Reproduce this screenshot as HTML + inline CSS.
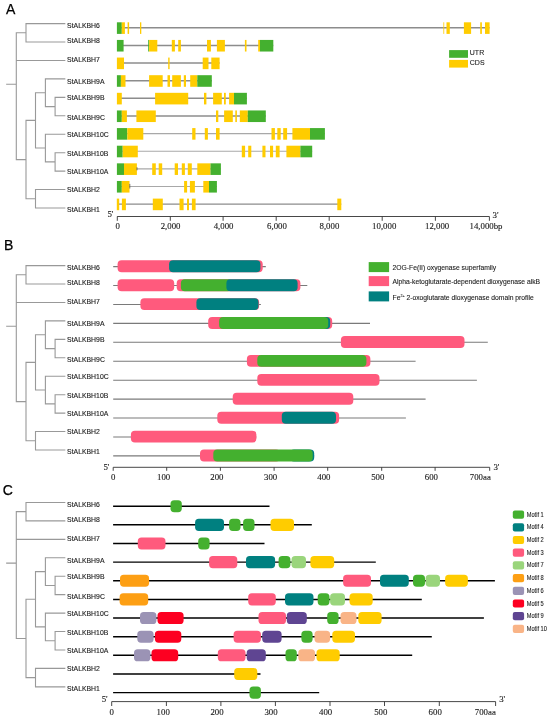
<!DOCTYPE html>
<html><head><meta charset="utf-8"><title>StALKBH gene structure</title><style>
html,body{margin:0;padding:0;background:#fff;width:550px;height:720px;overflow:hidden}
svg{display:block}
.pl{font-family:"Liberation Sans",Arial,sans-serif;font-size:14px;fill:#000;stroke:#000;stroke-width:0.25px}
.lb{font-family:"Liberation Sans",Arial,sans-serif;font-size:6.87px;fill:#222;stroke:#222;stroke-width:0.12px}
.lga{font-family:"Liberation Sans",Arial,sans-serif;font-size:7px;fill:#222;stroke:#222;stroke-width:0.1px}
.lgb{font-family:"Liberation Sans",Arial,sans-serif;font-size:6.75px;fill:#222;stroke:#222;stroke-width:0.1px}
.lgc{font-family:"Liberation Sans",Arial,sans-serif;font-size:6.7px;fill:#222;stroke:#222;stroke-width:0.1px}
.ax{font-family:"Liberation Serif","Times New Roman",serif;font-size:8.8px;fill:#1a1a1a;stroke:#1a1a1a;stroke-width:0.12px}
</style></head><body>
<svg width="550" height="720" viewBox="0 0 550 720">
<rect width="550" height="720" fill="#fff"/>
<text x="6" y="13.5" class="pl">A</text>
<text x="3.9" y="249.7" class="pl">B</text>
<text x="2.7" y="494.5" class="pl">C</text>
<path d="M26 23.6H64.8 M26 42.04H64.8 M26 23.6V42.04 M16.3 32.82H26 M16.3 60.48H64.8 M45.4 78.92H64.8 M55.1 97.36H64.8 M55.1 115.8H64.8 M55.1 97.36V115.8 M45.4 106.58H55.1 M45.4 78.92V106.58 M35.5 92.75H45.4 M45.4 134.24H64.8 M55.1 152.68H64.8 M55.1 171.12H64.8 M55.1 152.68V171.12 M45.4 161.9H55.1 M45.4 134.24V161.9 M35.5 148.07H45.4 M35.5 92.75V148.07 M26 120.41H35.5 M35.5 189.56H64.8 M35.5 208H64.8 M35.5 189.56V208 M26 198.78H35.5 M26 120.41V198.78 M16.3 159.59H26 M16.3 32.82V159.59 M6.7 84.3H16.3" stroke="#999999" stroke-width="1.1" fill="none" stroke-linecap="square"/>
<text x="67.1" y="28" class="lb">StALKBH6</text>
<text x="67.1" y="42.94" class="lb">StALKBH8</text>
<text x="67.1" y="61.98" class="lb">StALKBH7</text>
<text x="67.1" y="84.02" class="lb">StALKBH9A</text>
<text x="67.1" y="100.46" class="lb">StALKBH9B</text>
<text x="67.1" y="120.1" class="lb">StALKBH9C</text>
<text x="67.1" y="137.14" class="lb">StALKBH10C</text>
<text x="67.1" y="155.78" class="lb">StALKBH10B</text>
<text x="67.1" y="174.12" class="lb">StALKBH10A</text>
<text x="67.1" y="192.46" class="lb">StALKBH2</text>
<text x="67.1" y="212.35" class="lb">StALKBH1</text>
<path d="M117 27.8H489.6" stroke="#8c8c8c" stroke-width="1.4"/>
<rect x="116.9" y="22.3" width="4.9" height="11.6" fill="#44b02f"/>
<rect x="121.8" y="22.3" width="3.1" height="11.6" fill="#ffcc00"/>
<rect x="127.6" y="22.3" width="1.5" height="11.6" fill="#ffcc00"/>
<rect x="140" y="22.3" width="1.3" height="11.6" fill="#ffcc00"/>
<rect x="443.4" y="22.3" width="0.8" height="11.6" fill="#ffcc00"/>
<rect x="446.5" y="22.3" width="3.3" height="11.6" fill="#ffcc00"/>
<rect x="463.9" y="22.3" width="7.2" height="11.6" fill="#ffcc00"/>
<rect x="480.2" y="22.3" width="1.7" height="11.6" fill="#ffcc00"/>
<rect x="485" y="22.3" width="4.6" height="11.6" fill="#ffcc00"/>
<path d="M117 45.43H273.3" stroke="#8c8c8c" stroke-width="1.4"/>
<rect x="116.9" y="39.93" width="6.7" height="11.6" fill="#44b02f"/>
<rect x="148.2" y="39.93" width="0.9" height="11.6" fill="#44b02f"/>
<rect x="149.1" y="39.93" width="8.2" height="11.6" fill="#ffcc00"/>
<rect x="171.8" y="39.93" width="3.1" height="11.6" fill="#ffcc00"/>
<rect x="178.2" y="39.93" width="2.7" height="11.6" fill="#ffcc00"/>
<rect x="207" y="39.93" width="3.9" height="11.6" fill="#ffcc00"/>
<rect x="216.9" y="39.93" width="8" height="11.6" fill="#ffcc00"/>
<rect x="244.9" y="39.93" width="1.6" height="11.6" fill="#ffcc00"/>
<rect x="258.2" y="39.93" width="1.8" height="11.6" fill="#ffcc00"/>
<rect x="260" y="39.93" width="13.3" height="11.6" fill="#44b02f"/>
<path d="M117 63.06H219.6" stroke="#8c8c8c" stroke-width="1.4"/>
<rect x="116.9" y="57.56" width="7.1" height="11.6" fill="#ffcc00"/>
<rect x="168.2" y="57.56" width="1.4" height="11.6" fill="#ffcc00"/>
<rect x="202.7" y="57.56" width="5.8" height="11.6" fill="#ffcc00"/>
<rect x="211.3" y="57.56" width="8.3" height="11.6" fill="#ffcc00"/>
<path d="M117 80.69H211.8" stroke="#8c8c8c" stroke-width="1.4"/>
<rect x="116.9" y="75.19" width="4" height="11.6" fill="#44b02f"/>
<rect x="120.9" y="75.19" width="4.6" height="11.6" fill="#ffcc00"/>
<rect x="149.1" y="75.19" width="13.6" height="11.6" fill="#ffcc00"/>
<rect x="167.5" y="75.19" width="2.5" height="11.6" fill="#ffcc00"/>
<rect x="172.2" y="75.19" width="8.7" height="11.6" fill="#ffcc00"/>
<rect x="183.8" y="75.19" width="2.2" height="11.6" fill="#ffcc00"/>
<rect x="190.2" y="75.19" width="7.1" height="11.6" fill="#ffcc00"/>
<rect x="197.3" y="75.19" width="14.5" height="11.6" fill="#44b02f"/>
<path d="M117 98.32H246.9" stroke="#8c8c8c" stroke-width="1.4"/>
<rect x="116.9" y="92.82" width="4.9" height="11.6" fill="#ffcc00"/>
<rect x="155.1" y="92.82" width="33.1" height="11.6" fill="#ffcc00"/>
<rect x="204" y="92.82" width="2.4" height="11.6" fill="#ffcc00"/>
<rect x="213.1" y="92.82" width="8.7" height="11.6" fill="#ffcc00"/>
<rect x="224" y="92.82" width="1.8" height="11.6" fill="#ffcc00"/>
<rect x="229.1" y="92.82" width="4.9" height="11.6" fill="#ffcc00"/>
<rect x="234" y="92.82" width="12.9" height="11.6" fill="#44b02f"/>
<path d="M117 115.95H265.8" stroke="#8c8c8c" stroke-width="1.4"/>
<rect x="116.9" y="110.45" width="4.9" height="11.6" fill="#44b02f"/>
<rect x="121.8" y="110.45" width="5.1" height="11.6" fill="#ffcc00"/>
<rect x="136.4" y="110.45" width="19.4" height="11.6" fill="#ffcc00"/>
<rect x="216" y="110.45" width="2.3" height="11.6" fill="#ffcc00"/>
<rect x="224.1" y="110.45" width="8.7" height="11.6" fill="#ffcc00"/>
<rect x="235.3" y="110.45" width="1.6" height="11.6" fill="#ffcc00"/>
<rect x="239.8" y="110.45" width="8" height="11.6" fill="#ffcc00"/>
<rect x="247.8" y="110.45" width="18" height="11.6" fill="#44b02f"/>
<path d="M117 133.58H324.9" stroke="#a8a8a8" stroke-width="1.1"/>
<rect x="116.9" y="128.08" width="10.4" height="11.6" fill="#44b02f"/>
<rect x="127.3" y="128.08" width="16" height="11.6" fill="#ffcc00"/>
<rect x="192.2" y="128.08" width="3.3" height="11.6" fill="#ffcc00"/>
<rect x="204.8" y="128.08" width="3.1" height="11.6" fill="#ffcc00"/>
<rect x="216" y="128.08" width="3.6" height="11.6" fill="#ffcc00"/>
<rect x="271.5" y="128.08" width="3.4" height="11.6" fill="#ffcc00"/>
<rect x="277.3" y="128.08" width="3.4" height="11.6" fill="#ffcc00"/>
<rect x="283.2" y="128.08" width="3.9" height="11.6" fill="#ffcc00"/>
<rect x="292.4" y="128.08" width="17.6" height="11.6" fill="#ffcc00"/>
<rect x="310" y="128.08" width="14.9" height="11.6" fill="#44b02f"/>
<path d="M117 151.21H312.2" stroke="#a8a8a8" stroke-width="1.1"/>
<rect x="116.9" y="145.71" width="5.8" height="11.6" fill="#44b02f"/>
<rect x="122.7" y="145.71" width="15.1" height="11.6" fill="#ffcc00"/>
<rect x="241.8" y="145.71" width="3.3" height="11.6" fill="#ffcc00"/>
<rect x="248.2" y="145.71" width="3.1" height="11.6" fill="#ffcc00"/>
<rect x="262.4" y="145.71" width="3.1" height="11.6" fill="#ffcc00"/>
<rect x="270" y="145.71" width="3.1" height="11.6" fill="#ffcc00"/>
<rect x="275.8" y="145.71" width="3.8" height="11.6" fill="#ffcc00"/>
<rect x="286.4" y="145.71" width="14" height="11.6" fill="#ffcc00"/>
<rect x="300.4" y="145.71" width="11.8" height="11.6" fill="#44b02f"/>
<path d="M117 168.84H220.9" stroke="#a8a8a8" stroke-width="1.1"/>
<rect x="116.9" y="163.34" width="7.1" height="11.6" fill="#44b02f"/>
<rect x="124" y="163.34" width="12.9" height="11.6" fill="#ffcc00"/>
<rect x="152.2" y="163.34" width="3.6" height="11.6" fill="#ffcc00"/>
<rect x="158.7" y="163.34" width="3.5" height="11.6" fill="#ffcc00"/>
<rect x="174.7" y="163.34" width="3.3" height="11.6" fill="#ffcc00"/>
<rect x="181.8" y="163.34" width="3.1" height="11.6" fill="#ffcc00"/>
<rect x="187.8" y="163.34" width="4" height="11.6" fill="#ffcc00"/>
<rect x="197.3" y="163.34" width="13.2" height="11.6" fill="#ffcc00"/>
<rect x="210.5" y="163.34" width="10.4" height="11.6" fill="#44b02f"/>
<path d="M117 186.47H216.9" stroke="#a8a8a8" stroke-width="1.1"/>
<rect x="116.9" y="180.97" width="4.9" height="11.6" fill="#44b02f"/>
<rect x="121.8" y="180.97" width="7.7" height="11.6" fill="#ffcc00"/>
<rect x="184.1" y="180.97" width="3" height="11.6" fill="#ffcc00"/>
<rect x="189.9" y="180.97" width="5" height="11.6" fill="#ffcc00"/>
<rect x="203.3" y="180.97" width="5.7" height="11.6" fill="#ffcc00"/>
<rect x="209" y="180.97" width="7.9" height="11.6" fill="#44b02f"/>
<path d="M117 204.1H341.3" stroke="#8c8c8c" stroke-width="1.4"/>
<rect x="116.8" y="198.6" width="2.4" height="11.6" fill="#ffcc00"/>
<rect x="121.9" y="198.6" width="4" height="11.6" fill="#ffcc00"/>
<rect x="152.8" y="198.6" width="10" height="11.6" fill="#ffcc00"/>
<rect x="179.5" y="198.6" width="4.1" height="11.6" fill="#ffcc00"/>
<rect x="187" y="198.6" width="2" height="11.6" fill="#ffcc00"/>
<rect x="191.9" y="198.6" width="3.7" height="11.6" fill="#ffcc00"/>
<rect x="337.3" y="198.6" width="4" height="11.6" fill="#ffcc00"/>
<path d="M137 167.3V170.3M129.8 183.9V188.5" stroke="#555" stroke-width="0.8"/>
<rect x="449.1" y="50.1" width="18.9" height="7.7" fill="#44b02f"/>
<rect x="449.1" y="59.9" width="18.9" height="7.7" fill="#ffcc00"/>
<text x="469.8" y="54.6" class="lga">UTR</text>
<text x="469.8" y="64.6" class="lga">CDS</text>
<path d="M117.2 216.5H489.4M117.3 216.5V220.8M170.3 216.5V220.8M223.1 216.5V220.8M276.2 216.5V220.8M329.2 216.5V220.8M382.2 216.5V220.8M435.4 216.5V220.8M489.4 216.5V220.8" stroke="#333" stroke-width="0.9" fill="none"/>
<text x="117.7" y="228.9" class="ax" text-anchor="middle">0</text>
<text x="170.6" y="228.9" class="ax" text-anchor="middle">2,000</text>
<text x="223.6" y="228.9" class="ax" text-anchor="middle">4,000</text>
<text x="277" y="228.9" class="ax" text-anchor="middle">6,000</text>
<text x="329.4" y="228.9" class="ax" text-anchor="middle">8,000</text>
<text x="384.2" y="228.9" class="ax" text-anchor="middle">10,000</text>
<text x="437.1" y="228.9" class="ax" text-anchor="middle">12,000</text>
<text x="469.5" y="228.9" class="ax">14,000bp</text>
<text x="107.4" y="217.3" class="ax">5'</text>
<text x="492.6" y="217.8" class="ax">3'</text>
<path d="M26 265.6H64.8 M26 284.04H64.8 M26 265.6V284.04 M16.3 274.82H26 M16.3 302.48H64.8 M45.4 320.92H64.8 M55.1 339.36H64.8 M55.1 357.8H64.8 M55.1 339.36V357.8 M45.4 348.58H55.1 M45.4 320.92V348.58 M35.5 334.75H45.4 M45.4 376.24H64.8 M55.1 394.68H64.8 M55.1 413.12H64.8 M55.1 394.68V413.12 M45.4 403.9H55.1 M45.4 376.24V403.9 M35.5 390.07H45.4 M35.5 334.75V390.07 M26 362.41H35.5 M35.5 431.56H64.8 M35.5 450H64.8 M35.5 431.56V450 M26 440.78H35.5 M26 362.41V440.78 M16.3 401.6H26 M16.3 274.82V401.6 M6.7 326.3H16.3" stroke="#999999" stroke-width="1.1" fill="none" stroke-linecap="square"/>
<text x="67.1" y="270" class="lb">StALKBH6</text>
<text x="67.1" y="284.94" class="lb">StALKBH8</text>
<text x="67.1" y="303.98" class="lb">StALKBH7</text>
<text x="67.1" y="326.02" class="lb">StALKBH9A</text>
<text x="67.1" y="342.46" class="lb">StALKBH9B</text>
<text x="67.1" y="362.1" class="lb">StALKBH9C</text>
<text x="67.1" y="379.14" class="lb">StALKBH10C</text>
<text x="67.1" y="397.78" class="lb">StALKBH10B</text>
<text x="67.1" y="416.12" class="lb">StALKBH10A</text>
<text x="67.1" y="434.46" class="lb">StALKBH2</text>
<text x="67.1" y="454.35" class="lb">StALKBH1</text>
<path d="M113.2 266.6H265.8" stroke="#7a7a7a" stroke-width="1.1"/>
<rect x="117.6" y="260.3" width="145.1" height="11.9" rx="4" fill="#ff5a7d"/>
<rect x="169.1" y="260.3" width="91.3" height="11.9" rx="4" fill="#008080"/>
<path d="M113.2 285.53H307.3" stroke="#7a7a7a" stroke-width="1.1"/>
<rect x="117.6" y="279.23" width="56.6" height="11.9" rx="4" fill="#ff5a7d"/>
<rect x="176.7" y="279.23" width="123.7" height="11.9" rx="4" fill="#ff5a7d"/>
<rect x="180.9" y="279.23" width="51.1" height="11.9" rx="4" fill="#44b02f"/>
<rect x="226.4" y="279.23" width="71.2" height="11.9" rx="4" fill="#008080"/>
<path d="M113.2 304.46H260.9" stroke="#7a7a7a" stroke-width="1.1"/>
<rect x="140.4" y="298.16" width="118.7" height="11.9" rx="4" fill="#ff5a7d"/>
<rect x="196.4" y="298.16" width="62.1" height="11.9" rx="4" fill="#008080"/>
<path d="M113.2 323.39H370" stroke="#7a7a7a" stroke-width="1.1"/>
<rect x="208.2" y="317.09" width="124" height="11.9" rx="4" fill="#ff5a7d"/>
<rect x="300" y="317.09" width="30.2" height="11.9" rx="4" fill="#008080"/>
<rect x="219.1" y="317.09" width="109.1" height="11.9" rx="4" fill="#44b02f"/>
<path d="M113.2 342.32H487.8" stroke="#7a7a7a" stroke-width="1.1"/>
<rect x="340.9" y="336.02" width="123.6" height="11.9" rx="4" fill="#ff5a7d"/>
<path d="M113.2 361.25H415.6" stroke="#7a7a7a" stroke-width="1.1"/>
<rect x="246.9" y="354.95" width="123.5" height="11.9" rx="4" fill="#ff5a7d"/>
<rect x="257.3" y="354.95" width="109.1" height="11.9" rx="4" fill="#44b02f"/>
<path d="M113.2 380.18H476.9" stroke="#7a7a7a" stroke-width="1.1"/>
<rect x="257.3" y="373.88" width="122.2" height="11.9" rx="4" fill="#ff5a7d"/>
<path d="M113.2 399.11H425.6" stroke="#7a7a7a" stroke-width="1.1"/>
<rect x="232.7" y="392.81" width="120.6" height="11.9" rx="4" fill="#ff5a7d"/>
<path d="M113.2 418.04H405.9" stroke="#7a7a7a" stroke-width="1.1"/>
<rect x="217.3" y="411.74" width="121.8" height="11.9" rx="4" fill="#ff5a7d"/>
<rect x="281.8" y="411.74" width="54.2" height="11.9" rx="4" fill="#008080"/>
<path d="M113.2 436.97H256.4" stroke="#7a7a7a" stroke-width="1.1"/>
<rect x="130.9" y="430.67" width="125.5" height="11.9" rx="4" fill="#ff5a7d"/>
<path d="M113.2 455.9H314.2" stroke="#7a7a7a" stroke-width="1.1"/>
<rect x="200" y="449.6" width="80" height="11.9" rx="4" fill="#ff5a7d"/>
<rect x="290" y="449.6" width="24.2" height="11.9" rx="4" fill="#008080"/>
<rect x="213.3" y="449.6" width="99.4" height="11.9" rx="4" fill="#44b02f"/>
<rect x="368.7" y="262.1" width="20.4" height="10" fill="#44b02f"/>
<text x="392.6" y="269.9" class="lgb">2OG-Fe(II) oxygenase superfamily</text>
<rect x="368.7" y="276.1" width="20.4" height="10" fill="#ff5a7d"/>
<text x="392.6" y="284.4" class="lgb">Alpha-ketoglutarate-dependent dioxygenase alkB</text>
<rect x="368.7" y="291.4" width="20.4" height="10" fill="#008080"/>
<text x="392.6" y="299.5" class="lgb">Fe<tspan font-size="3.6" dy="-2.6">2+</tspan><tspan dy="2.6"> 2-oxoglutarate dioxygenase domain profile</tspan></text>
<path d="M113.2 467.3H489.7M113.2 467.3V470.8M166.7 467.3V470.8M220.4 467.3V470.8M274.1 467.3V470.8M327.7 467.3V470.8M381.7 467.3V470.8M435.1 467.3V470.8M489.7 467.3V470.8" stroke="#333" stroke-width="0.9" fill="none"/>
<text x="113.3" y="479.8" class="ax" text-anchor="middle">0</text>
<text x="163.6" y="479.8" class="ax" text-anchor="middle">100</text>
<text x="216.9" y="479.8" class="ax" text-anchor="middle">200</text>
<text x="270.6" y="479.8" class="ax" text-anchor="middle">300</text>
<text x="323.9" y="479.8" class="ax" text-anchor="middle">400</text>
<text x="377.8" y="479.8" class="ax" text-anchor="middle">500</text>
<text x="431.4" y="479.8" class="ax" text-anchor="middle">600</text>
<text x="490.8" y="480" class="ax" text-anchor="end">700aa</text>
<text x="103.4" y="469.9" class="ax">5'</text>
<text x="493.4" y="469.8" class="ax">3'</text>
<path d="M26 502.45H64.8 M26 520.89H64.8 M26 502.45V520.89 M16.3 511.67H26 M16.3 539.33H64.8 M45.4 557.77H64.8 M55.1 576.21H64.8 M55.1 594.65H64.8 M55.1 576.21V594.65 M45.4 585.43H55.1 M45.4 557.77V585.43 M35.5 571.6H45.4 M45.4 613.09H64.8 M55.1 631.53H64.8 M55.1 649.97H64.8 M55.1 631.53V649.97 M45.4 640.75H55.1 M45.4 613.09V640.75 M35.5 626.92H45.4 M35.5 571.6V626.92 M26 599.26H35.5 M35.5 668.41H64.8 M35.5 686.85H64.8 M35.5 668.41V686.85 M26 677.63H35.5 M26 599.26V677.63 M16.3 638.44H26 M16.3 511.67V638.44 M6.7 563.15H16.3" stroke="#999999" stroke-width="1.1" fill="none" stroke-linecap="square"/>
<text x="67.1" y="506.85" class="lb">StALKBH6</text>
<text x="67.1" y="521.79" class="lb">StALKBH8</text>
<text x="67.1" y="540.83" class="lb">StALKBH7</text>
<text x="67.1" y="562.87" class="lb">StALKBH9A</text>
<text x="67.1" y="579.31" class="lb">StALKBH9B</text>
<text x="67.1" y="598.95" class="lb">StALKBH9C</text>
<text x="67.1" y="615.99" class="lb">StALKBH10C</text>
<text x="67.1" y="634.63" class="lb">StALKBH10B</text>
<text x="67.1" y="652.97" class="lb">StALKBH10A</text>
<text x="67.1" y="671.31" class="lb">StALKBH2</text>
<text x="67.1" y="691.2" class="lb">StALKBH1</text>
<path d="M113.1 506.2H269.5" stroke="#000" stroke-width="1.45"/>
<rect x="170.5" y="500.15" width="11.3" height="12.1" rx="3.7" fill="#44b02f"/>
<path d="M113.1 524.84H311.8" stroke="#000" stroke-width="1.45"/>
<rect x="195.1" y="518.79" width="28.9" height="12.1" rx="3.7" fill="#008080"/>
<rect x="229.1" y="518.79" width="11.4" height="12.1" rx="3.7" fill="#44b02f"/>
<rect x="243.1" y="518.79" width="11.4" height="12.1" rx="3.7" fill="#44b02f"/>
<rect x="270.5" y="518.79" width="23.5" height="12.1" rx="3.7" fill="#ffcc00"/>
<path d="M113.1 543.48H264.5" stroke="#000" stroke-width="1.45"/>
<rect x="137.8" y="537.43" width="27.7" height="12.1" rx="3.7" fill="#ff5a7d"/>
<rect x="198.2" y="537.43" width="11.4" height="12.1" rx="3.7" fill="#44b02f"/>
<path d="M113.1 562.12H375.8" stroke="#000" stroke-width="1.45"/>
<rect x="209.1" y="556.07" width="28.2" height="12.1" rx="3.7" fill="#ff5a7d"/>
<rect x="246" y="556.07" width="29.1" height="12.1" rx="3.7" fill="#008080"/>
<rect x="278.6" y="556.07" width="11.8" height="12.1" rx="3.7" fill="#44b02f"/>
<rect x="291.5" y="556.07" width="14.5" height="12.1" rx="3.7" fill="#9ad57c"/>
<rect x="310.4" y="556.07" width="23.8" height="12.1" rx="3.7" fill="#ffcc00"/>
<path d="M113.1 580.76H494.9" stroke="#000" stroke-width="1.45"/>
<rect x="120" y="574.71" width="29.1" height="12.1" rx="3.7" fill="#fd9f14"/>
<rect x="343.1" y="574.71" width="27.9" height="12.1" rx="3.7" fill="#ff5a7d"/>
<rect x="380" y="574.71" width="28.8" height="12.1" rx="3.7" fill="#008080"/>
<rect x="413" y="574.71" width="12" height="12.1" rx="3.7" fill="#44b02f"/>
<rect x="425.6" y="574.71" width="14.4" height="12.1" rx="3.7" fill="#9ad57c"/>
<rect x="445.1" y="574.71" width="22.8" height="12.1" rx="3.7" fill="#ffcc00"/>
<path d="M113.1 599.4H421.8" stroke="#000" stroke-width="1.45"/>
<rect x="119.6" y="593.35" width="28.6" height="12.1" rx="3.7" fill="#fd9f14"/>
<rect x="248.2" y="593.35" width="27.6" height="12.1" rx="3.7" fill="#ff5a7d"/>
<rect x="285" y="593.35" width="28.5" height="12.1" rx="3.7" fill="#008080"/>
<rect x="317.7" y="593.35" width="11.8" height="12.1" rx="3.7" fill="#44b02f"/>
<rect x="330.1" y="593.35" width="14.9" height="12.1" rx="3.7" fill="#9ad57c"/>
<rect x="349.5" y="593.35" width="23.2" height="12.1" rx="3.7" fill="#ffcc00"/>
<path d="M113.1 618.04H483.9" stroke="#000" stroke-width="1.45"/>
<rect x="140" y="611.99" width="16.4" height="12.1" rx="3.7" fill="#9b93b5"/>
<rect x="157.5" y="611.99" width="26.1" height="12.1" rx="3.7" fill="#fd0021"/>
<rect x="258.5" y="611.99" width="27.5" height="12.1" rx="3.7" fill="#ff5a7d"/>
<rect x="286.8" y="611.99" width="20" height="12.1" rx="3.7" fill="#5f4592"/>
<rect x="327.2" y="611.99" width="11.4" height="12.1" rx="3.7" fill="#44b02f"/>
<rect x="340.5" y="611.99" width="16" height="12.1" rx="3.7" fill="#f9b487"/>
<rect x="358.3" y="611.99" width="23.3" height="12.1" rx="3.7" fill="#ffcc00"/>
<path d="M113.1 636.68H431.8" stroke="#000" stroke-width="1.45"/>
<rect x="137.3" y="630.63" width="16.3" height="12.1" rx="3.7" fill="#9b93b5"/>
<rect x="154.9" y="630.63" width="26.4" height="12.1" rx="3.7" fill="#fd0021"/>
<rect x="233.6" y="630.63" width="27.3" height="12.1" rx="3.7" fill="#ff5a7d"/>
<rect x="262.2" y="630.63" width="19.4" height="12.1" rx="3.7" fill="#5f4592"/>
<rect x="301.4" y="630.63" width="11.2" height="12.1" rx="3.7" fill="#44b02f"/>
<rect x="314.5" y="630.63" width="15.6" height="12.1" rx="3.7" fill="#f9b487"/>
<rect x="332.3" y="630.63" width="22.7" height="12.1" rx="3.7" fill="#ffcc00"/>
<path d="M113.1 655.32H412.2" stroke="#000" stroke-width="1.45"/>
<rect x="134" y="649.27" width="16.4" height="12.1" rx="3.7" fill="#9b93b5"/>
<rect x="151.5" y="649.27" width="26.7" height="12.1" rx="3.7" fill="#fd0021"/>
<rect x="217.8" y="649.27" width="27.7" height="12.1" rx="3.7" fill="#ff5a7d"/>
<rect x="246.7" y="649.27" width="19.1" height="12.1" rx="3.7" fill="#5f4592"/>
<rect x="285.5" y="649.27" width="11.3" height="12.1" rx="3.7" fill="#44b02f"/>
<rect x="298.3" y="649.27" width="16.7" height="12.1" rx="3.7" fill="#f9b487"/>
<rect x="316.5" y="649.27" width="23.2" height="12.1" rx="3.7" fill="#ffcc00"/>
<path d="M113.1 673.96H260.5" stroke="#000" stroke-width="1.45"/>
<rect x="234.2" y="667.91" width="23.1" height="12.1" rx="3.7" fill="#ffcc00"/>
<path d="M113.1 692.6H319.2" stroke="#000" stroke-width="1.45"/>
<rect x="249.5" y="686.55" width="11.4" height="12.1" rx="3.7" fill="#44b02f"/>
<rect x="512.8" y="510.5" width="11.3" height="8.2" rx="2" fill="#44b02f"/>
<text transform="translate(526.7 516.6) scale(0.85 1)" class="lgc">Motif 1</text>
<rect x="512.8" y="523.2" width="11.3" height="8.2" rx="2" fill="#008080"/>
<text transform="translate(526.7 529.3) scale(0.85 1)" class="lgc">Motif 4</text>
<rect x="512.8" y="535.9" width="11.3" height="8.2" rx="2" fill="#ffcc00"/>
<text transform="translate(526.7 542) scale(0.85 1)" class="lgc">Motif 2</text>
<rect x="512.8" y="548.6" width="11.3" height="8.2" rx="2" fill="#ff5a7d"/>
<text transform="translate(526.7 554.7) scale(0.85 1)" class="lgc">Motif 3</text>
<rect x="512.8" y="561.3" width="11.3" height="8.2" rx="2" fill="#9ad57c"/>
<text transform="translate(526.7 567.4) scale(0.85 1)" class="lgc">Motif 7</text>
<rect x="512.8" y="574" width="11.3" height="8.2" rx="2" fill="#fd9f14"/>
<text transform="translate(526.7 580.1) scale(0.85 1)" class="lgc">Motif 8</text>
<rect x="512.8" y="586.7" width="11.3" height="8.2" rx="2" fill="#9b93b5"/>
<text transform="translate(526.7 592.8) scale(0.85 1)" class="lgc">Motif 6</text>
<rect x="512.8" y="599.4" width="11.3" height="8.2" rx="2" fill="#fd0021"/>
<text transform="translate(526.7 605.5) scale(0.85 1)" class="lgc">Motif 5</text>
<rect x="512.8" y="612.1" width="11.3" height="8.2" rx="2" fill="#5f4592"/>
<text transform="translate(526.7 618.2) scale(0.85 1)" class="lgc">Motif 9</text>
<rect x="512.8" y="624.8" width="11.3" height="8.2" rx="2" fill="#f9b487"/>
<text transform="translate(526.7 630.9) scale(0.85 1)" class="lgc">Motif 10</text>
<path d="M111.7 701.6H495.6M111.7 701.6V706M166.4 701.6V706M220.9 701.6V706M275.4 701.6V706M330 701.6V706M384.5 701.6V706M439.3 701.6V706M495.6 701.6V706" stroke="#333" stroke-width="0.9" fill="none"/>
<text x="111.8" y="714.8" class="ax" text-anchor="middle">0</text>
<text x="163.2" y="714.8" class="ax" text-anchor="middle">100</text>
<text x="217" y="714.8" class="ax" text-anchor="middle">200</text>
<text x="271" y="714.8" class="ax" text-anchor="middle">300</text>
<text x="325.6" y="714.8" class="ax" text-anchor="middle">400</text>
<text x="380.8" y="714.8" class="ax" text-anchor="middle">500</text>
<text x="435.2" y="714.8" class="ax" text-anchor="middle">600</text>
<text x="495.8" y="715.2" class="ax" text-anchor="end">700aa</text>
<text x="101.7" y="701.8" class="ax">5'</text>
<text x="499.2" y="702.2" class="ax">3'</text>
</svg>
</body></html>
